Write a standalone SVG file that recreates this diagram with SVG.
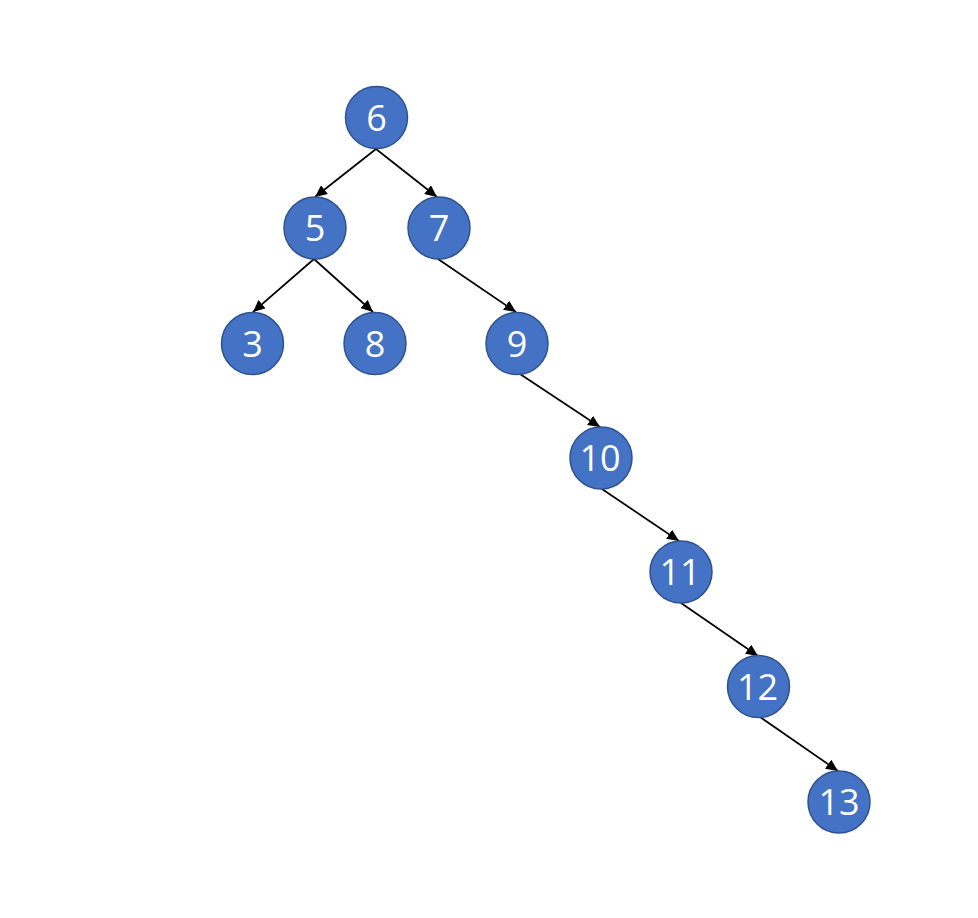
<svg xmlns="http://www.w3.org/2000/svg" width="978" height="918" viewBox="0 0 978 918">
<style>
.n circle{fill:#4472C4;stroke:#2F528F;stroke-width:1.5}
.n text{fill:#fff;font-family:"Open Sans","Liberation Sans",sans-serif;font-size:36px;text-anchor:middle}
.e line{stroke:#000;stroke-width:1.7;marker-end:url(#ah)}
</style>
<defs>
<marker id="ah" markerUnits="userSpaceOnUse" markerWidth="12" markerHeight="11" refX="12" refY="5.5" orient="auto">
<path d="M0,0 L12,5.5 L0,11 z" fill="#000"/>
</marker>
</defs>
<rect width="978" height="918" fill="#fff"/>
<g id="connectors" class="e">
<line x1="376" y1="149" x2="315" y2="197"/>
<line x1="376" y1="149" x2="437" y2="197"/>
<line x1="314" y1="259" x2="253" y2="312"/>
<line x1="314" y1="259" x2="373" y2="312"/>
<line x1="438" y1="259" x2="516" y2="312"/>
<line x1="520" y1="374" x2="600" y2="427"/>
<line x1="602" y1="489" x2="679" y2="541"/>
<line x1="681" y1="603" x2="758" y2="656"/>
<line x1="760" y1="717" x2="838" y2="771"/>
</g>
<g id="n6" class="n"><circle cx="376.5" cy="117.5" r="31"/><text x="376.5" y="130.5">6</text></g>
<g id="n5" class="n"><circle cx="315" cy="228" r="31"/><text x="315" y="241">5</text></g>
<g id="n7" class="n"><circle cx="439" cy="228" r="31"/><text x="439" y="241">7</text></g>
<g id="n3" class="n"><circle cx="252.5" cy="343.5" r="31"/><text x="252.5" y="356.5">3</text></g>
<g id="n8" class="n"><circle cx="375" cy="343.5" r="31"/><text x="375" y="356.5">8</text></g>
<g id="n9" class="n"><circle cx="517" cy="343.5" r="31"/><text x="517" y="356.5">9</text></g>
<g id="n10" class="n"><circle cx="601" cy="458" r="31"/><text x="600" y="471">10</text></g>
<g id="n11" class="n"><circle cx="681" cy="572" r="31"/><text x="680" y="585">11</text></g>
<g id="n12" class="n"><circle cx="758.5" cy="686.5" r="31"/><text x="757.5" y="699.5">12</text></g>
<g id="n13" class="n"><circle cx="839" cy="802" r="31"/><text x="839" y="815">13</text></g>
</svg>
